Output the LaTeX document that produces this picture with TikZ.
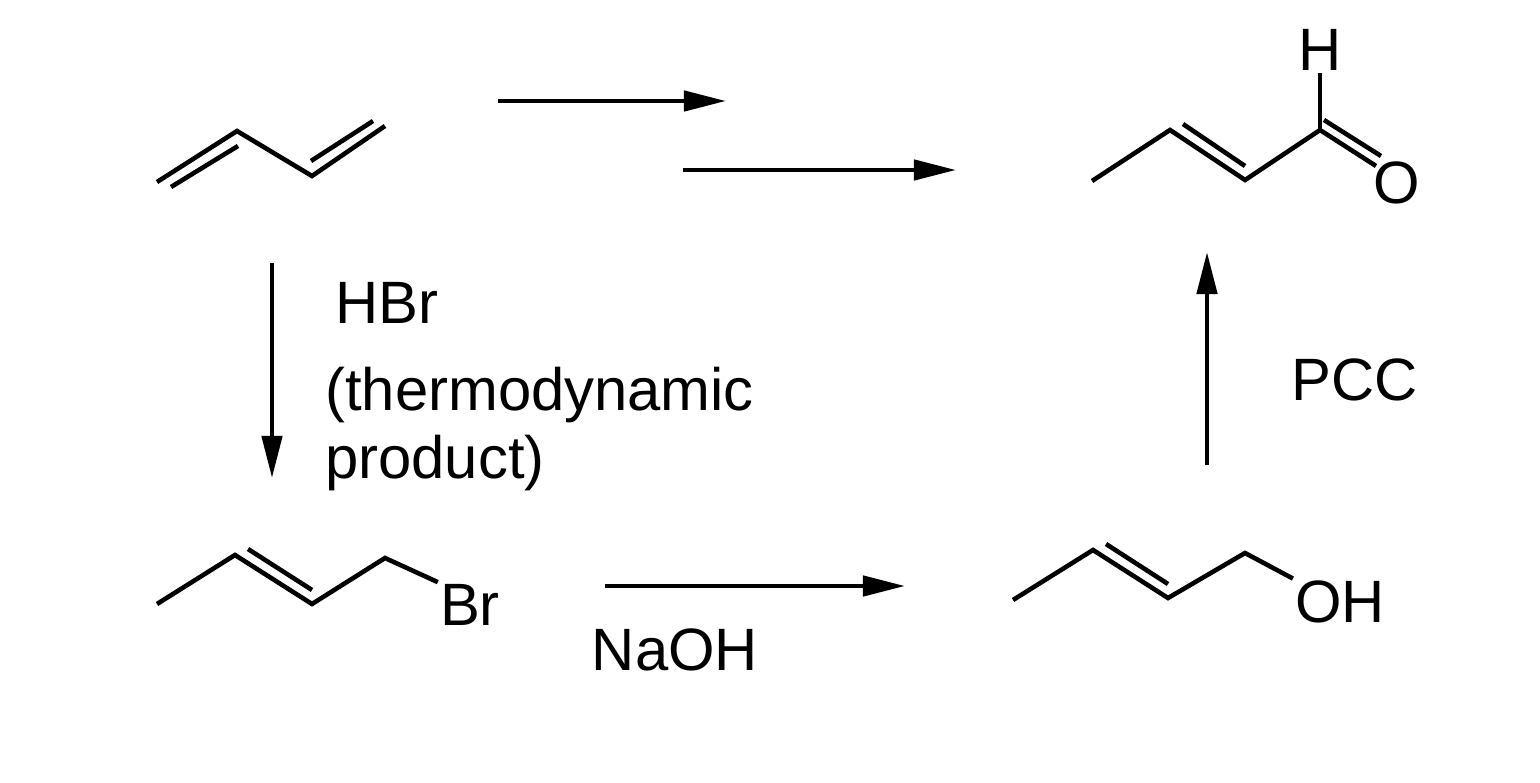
\documentclass[tikz,border=0pt]{standalone}
\usepackage{fontspec}
\setmainfont{Liberation Sans}
\usetikzlibrary{arrows.meta}
\begin{document}
\begin{tikzpicture}[x=0.01cm,y=-0.01cm,line width=1.3pt,
  rxn/.style={-{Triangle[length=0.42cm,width=0.2cm]}},
  lbl/.style={font=\fontsize{17}{20}\selectfont,inner sep=0pt}]
\useasboundingbox (0,0) rectangle (1540,782);
% butadiene
\coordinate (a1) at (157,182); \coordinate (a2) at (237,131);
\coordinate (a3) at (312,176); \coordinate (a4) at (385,126);
\draw (a1)--(a2)--(a3)--(a4);
\draw ([shift={(14,5)}]a1) -- ([shift={(1,15)}]a2);
\draw ([shift={(-1,-15)}]a3) -- ([shift={(-12,-5)}]a4);
% arrows top
\coordinate (t1) at (498,101); \coordinate (t2) at (726,101);
\draw[rxn] (t1)--(t2);
\coordinate (t3) at (683,170); \coordinate (t4) at (956,170);
\draw[rxn] (t3)--(t4);
% crotonaldehyde
\coordinate (c1) at (1092,181); \coordinate (c2) at (1170,130);
\coordinate (c3) at (1245,180); \coordinate (c4) at (1320,130);
\node[lbl] (O1) at (1397,183) {O};
\node[lbl] (H1) at (1320,50) {H};
\draw (c1)--(c2)--(c3)--(c4);
\draw ([shift={(13,-6)}]c2) -- ([shift={(0,-14)}]c3);
\draw (c4)--(H1.south);
\draw (c4)--(1376,166);
\draw ([shift={(4,-10)}]c4)--(1381,156);
% down arrow
\coordinate (d1) at (272,263); \coordinate (d2) at (272,478);
\draw[rxn] (d1)--(d2);
\node[lbl,anchor=west] (hbr) at (333,303) {HBr};
\node[lbl,anchor=west] (th) at (323,395) {(thermodynamic};
\node[lbl,anchor=west] (pr) at (323,463) {product)};
% allyl bromide
\coordinate (b1) at (157,604); \coordinate (b2) at (235,555);
\coordinate (b3) at (312,604); \coordinate (b4) at (385,558);
\node[lbl] (Br) at (470,605) {Br};
\draw (b1)--(b2)--(b3)--(b4)--(Br.north west);
\draw ([shift={(13,-6)}]b2) -- ([shift={(0,-14)}]b3);
% NaOH arrow
\coordinate (n1) at (605,586); \coordinate (n2) at (905,586);
\draw[rxn] (n1)--(n2);
\node[lbl] (naoh) at (675,650) {NaOH};
% alcohol
\coordinate (e1) at (1013,600); \coordinate (e2) at (1093,550);
\coordinate (e3) at (1168,598); \coordinate (e4) at (1245,553);
\node[lbl] (OH) at (1340,602) {OH};
\draw (e1)--(e2)--(e3)--(e4)--(OH.north west);
\draw ([shift={(13,-6)}]e2) -- ([shift={(0,-14)}]e3);
% up arrow
\coordinate (u1) at (1207,465); \coordinate (u2) at (1207,252);
\draw[rxn] (u1)--(u2);
\node[lbl] (pcc) at (1355,380) {PCC};
\end{tikzpicture}
\end{document}
